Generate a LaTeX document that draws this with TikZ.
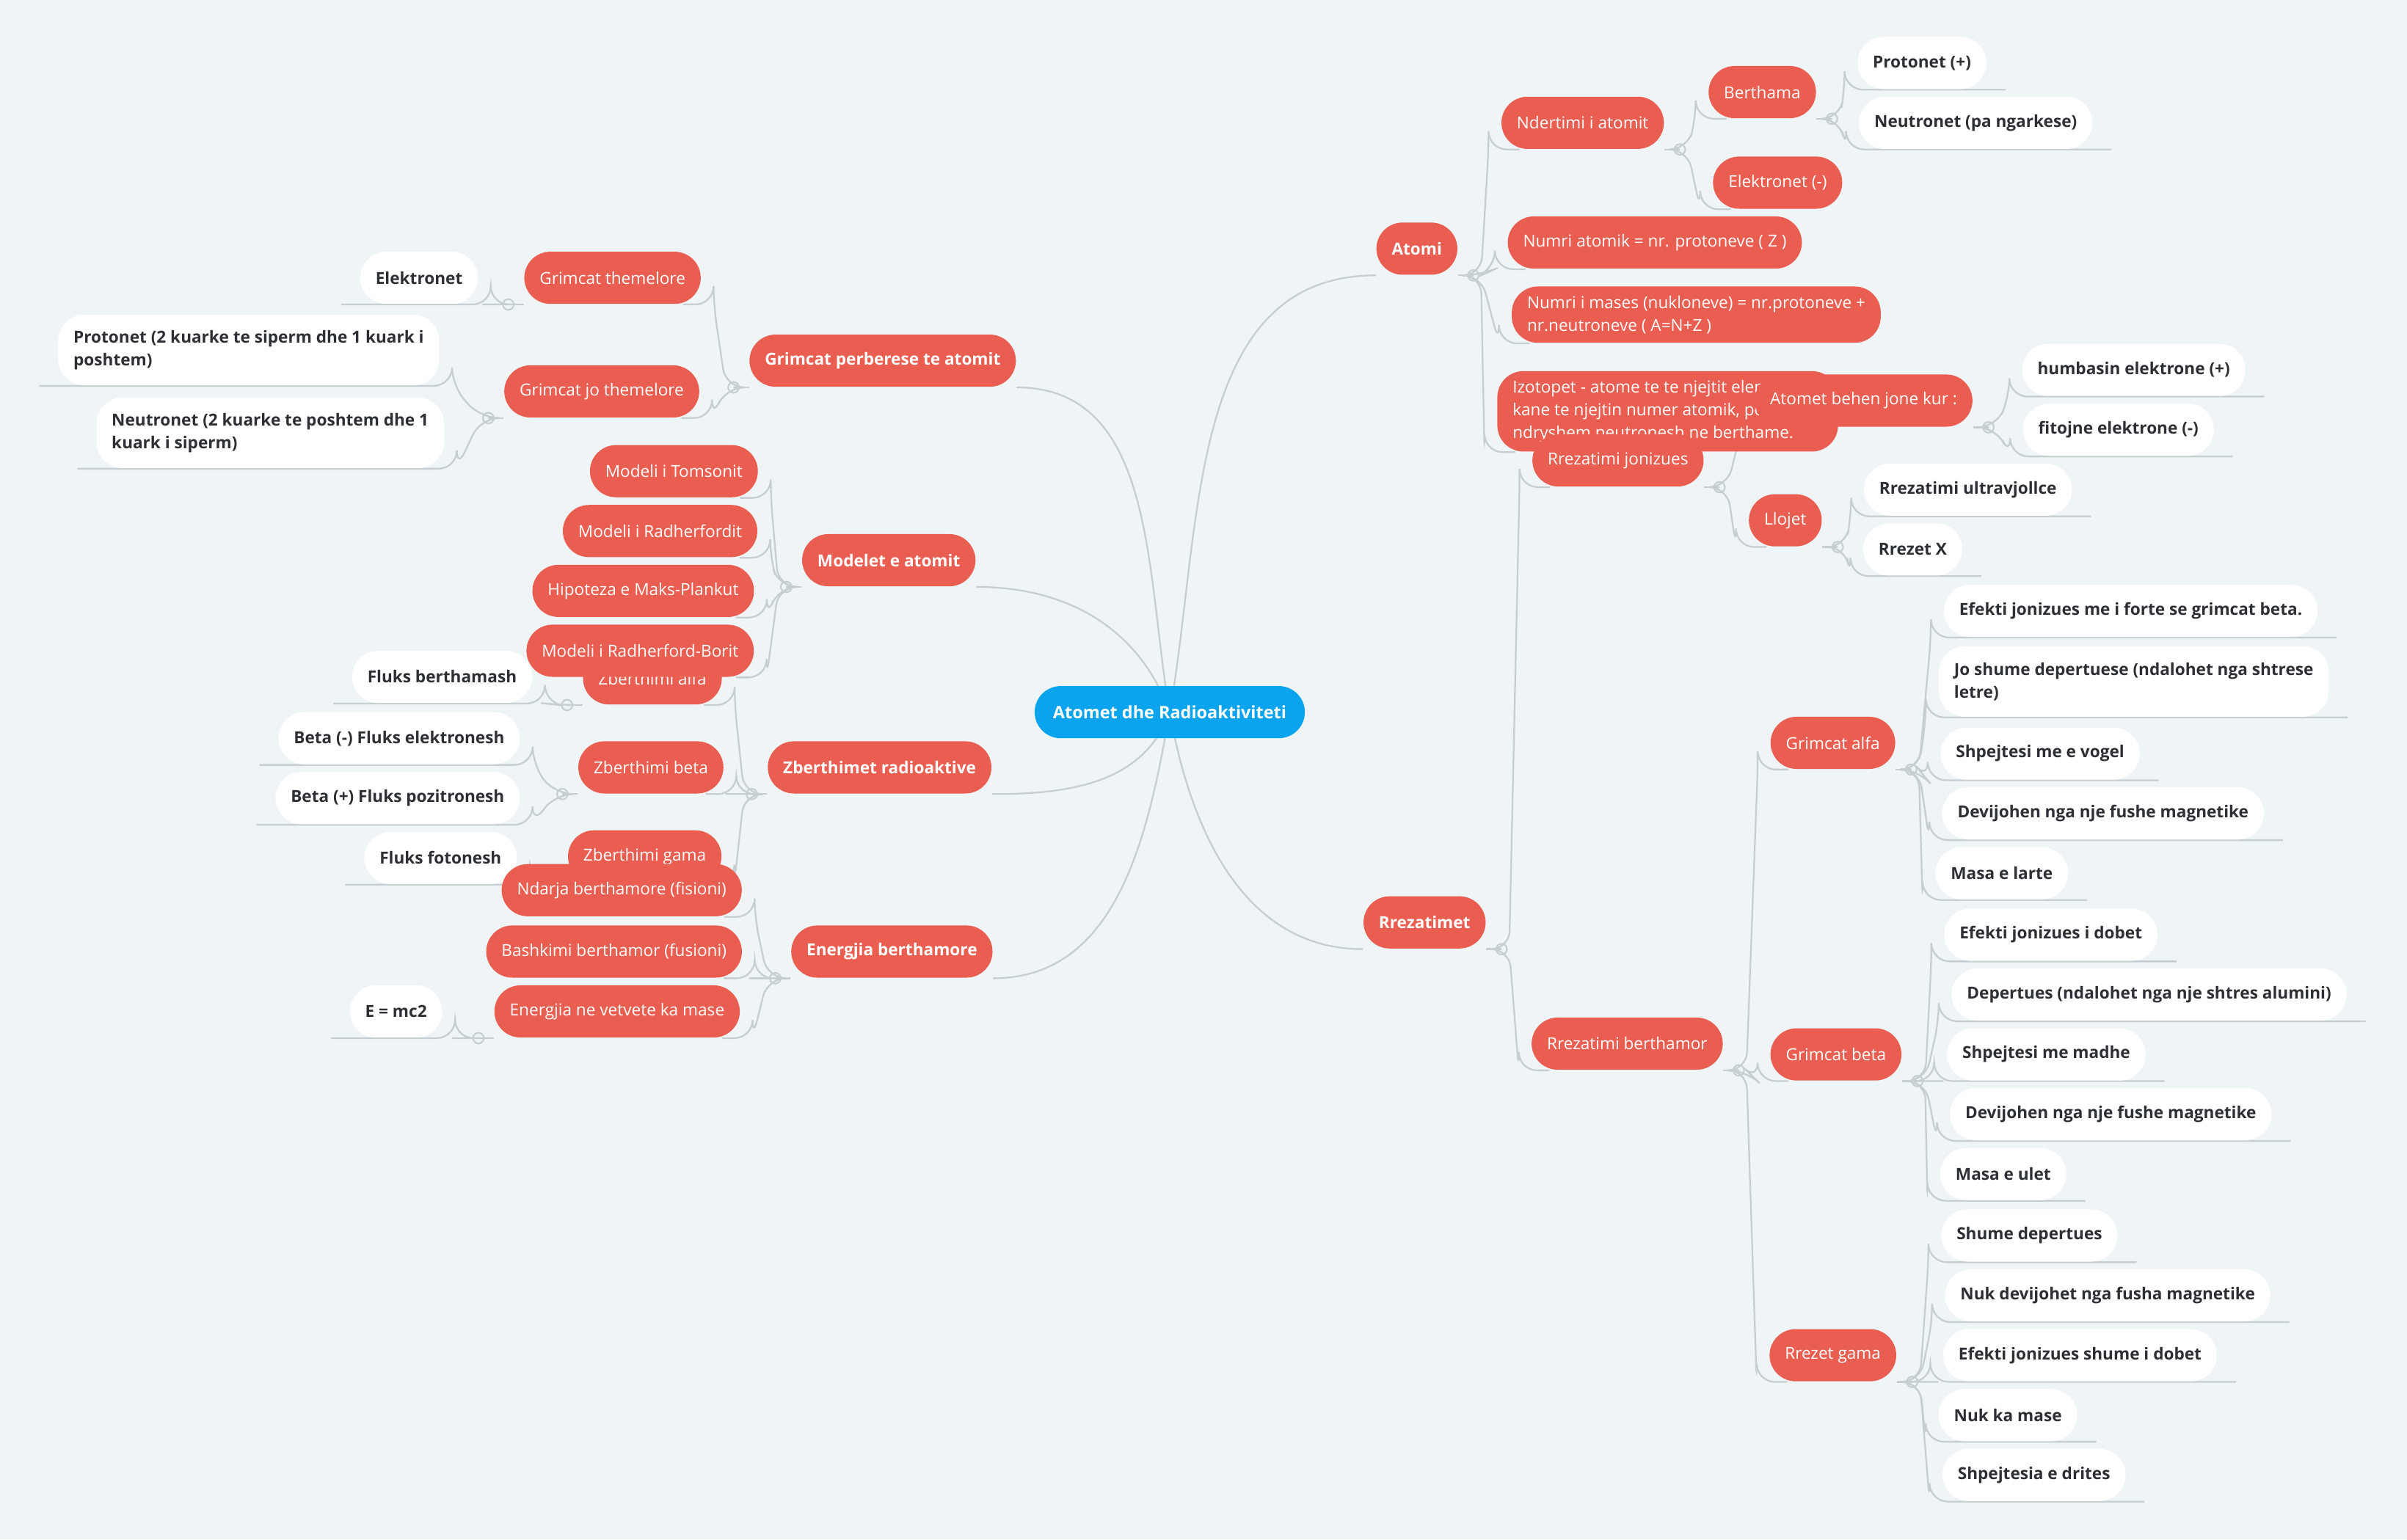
\documentclass[tikz,border=0pt]{standalone}
\usepackage{fontspec}
\setmainfont{Open Sans}
\usetikzlibrary{calc}
\pgfdeclarelayer{bg}
\pgfdeclarelayer{back}
\pgfsetlayers{back,bg,main}
\definecolor{bgc}{HTML}{EFF5F7}
\definecolor{redc}{HTML}{E95E50}
\definecolor{bluec}{HTML}{0AA3EE}
\definecolor{linec}{HTML}{C6CED2}
\definecolor{txt}{HTML}{2C2F33}
\tikzset{
 base/.style={rounded corners=8.5pt,minimum height=17pt,inner xsep=5pt,inner ysep=3pt,align=left,font=\fontsize{5.4}{7.4}\selectfont},
 rd/.style={base,fill=redc,text=white},
 rdb/.style={rd,font=\fontsize{5.4}{7.4}\selectfont\bfseries},
 wh/.style={base,fill=white,text=txt,font=\fontsize{5.4}{7.4}\selectfont\bfseries},
 rootn/.style={base,fill=bluec,text=white,font=\fontsize{5.6}{7.4}\selectfont\bfseries,inner xsep=6pt},
 conn/.style={draw=linec,line width=0.55pt},
 jn/.style={circle,draw=linec,fill=bgc,line width=0.5pt,inner sep=0pt,minimum size=3.5pt}
}
% right links
\newcommand\mrj[1]{\draw[conn] (#1.south east) -- ++(10,0) node[jn](J#1){};}
\newcommand\mrl[2]{\draw[conn,rounded corners=6pt] (J#1.center) -- ($(J#1.center)+(5,0)$) -- ($(#2.south west)+(-8,0)$ |- J#1.center) -- ($(#2.south west)+(-8,0)$) -- ($(#2.south west)+(12,0)$);}
\newcommand\mrw[2]{\draw[conn,rounded corners=6pt] (J#1.center) -- ($(J#1.center)+(5,0)$) -- ($(#2.south west)+(-8,0)$ |- J#1.center) -- ($(#2.south west)+(-8,0)$) -- ($(#2.south east)+(12,0)$);}
% left links
\newcommand\mlj[1]{\draw[conn] (#1.south west) -- ++(-10,0) node[jn](J#1){};}
\newcommand\mll[2]{\draw[conn,rounded corners=6pt] (J#1.center) -- ($(J#1.center)+(-5,0)$) -- ($(#2.south east)+(8,0)$ |- J#1.center) -- ($(#2.south east)+(8,0)$) -- ($(#2.south east)+(-12,0)$);}
\newcommand\mlw[2]{\draw[conn,rounded corners=6pt] (J#1.center) -- ($(J#1.center)+(-5,0)$) -- ($(#2.south east)+(8,0)$ |- J#1.center) -- ($(#2.south east)+(8,0)$) -- ($(#2.south west)+(-12,0)$);}
\begin{document}
\begin{tikzpicture}[x=0.5pt,y=-0.5pt]
\begin{pgfonlayer}{back}
\fill[bgc] (0,0) rectangle (1568,1003);
\end{pgfonlayer}
\useasboundingbox (0,0) rectangle (1568,1003);
\node[rootn] (root) at (762,464) {Atomet dhe Radioaktiviteti};
% right
\node[rdb] (atomi) at (923,162) {Atomi};
\node[rd] (ndert) at (1031,80) {Ndertimi i atomit};
\node[rd] (berth) at (1148,60) {Berthama};
\node[wh] (prot) at (1252,41) {Protonet (+)};
\node[wh] (neut) at (1287,80) {Neutronet (pa ngarkese)};
\node[rd] (elek) at (1158,119) {Elektronet (-)};
\node[rd] (numa) at (1078,158) {Numri atomik = nr. protoneve ( Z )};
\node[rd] (numm) at (1105,205) {Numri i mases (nukloneve) = nr.protoneve +\\nr.neutroneve ( A=N+Z )};
\node[rd,anchor=west] (izot) at (975,268) {Izotopet - atome te te njejtit element, qe\\kane te njejtin numer atomik, por\\ndryshem neutronesh ne berthame.};
\node[rdb] (rrez) at (928,601) {Rrezatimet};
\node[rd] (rjon) at (1054,300) {Rrezatimi jonizues};
\node[rd] (behen) at (1214,261) {Atomet behen jone kur :};
\node[wh] (humb) at (1390,241) {humbasin elektrone (+)};
\node[wh] (fit) at (1380,280) {fitojne elektrone (-)};
\node[rd] (llojet) at (1163,339) {Llojet};
\node[wh] (uv) at (1282,319) {Rrezatimi ultravjollce};
\node[wh] (rx) at (1246,358) {Rrezet X};
\node[rd] (rber) at (1060,680) {Rrezatimi berthamor};
\node[rd] (galfa) at (1194,484) {Grimcat alfa};
\node[wh] (a1) at (1388,398) {Efekti jonizues me i forte se grimcat beta.};
\node[wh,minimum height=23pt] (a2) at (1390,444) {Jo shume depertuese (ndalohet nga shtrese\\letre)};
\node[wh] (a3) at (1329,491) {Shpejtesi me e vogel};
\node[wh] (a4) at (1370,530) {Devijohen nga nje fushe magnetike};
\node[wh] (a5) at (1304,569) {Masa e larte};
\node[rd] (gbeta) at (1196,687) {Grimcat beta};
\node[wh] (b1) at (1336,609) {Efekti jonizues i dobet};
\node[wh] (b2) at (1400,648) {Depertues (ndalohet nga nje shtres alumini)};
\node[wh] (b3) at (1333,687) {Shpejtesi me madhe};
\node[wh] (b4) at (1375,726) {Devijohen nga nje fushe magnetike};
\node[wh] (b5) at (1305,765) {Masa e ulet};
\node[rd] (rgama) at (1194,883) {Rrezet gama};
\node[wh] (g1) at (1322,805) {Shume depertues};
\node[wh] (g2) at (1373,844) {Nuk devijohet nga fusha magnetike};
\node[wh] (g3) at (1355,883) {Efekti jonizues shume i dobet};
\node[wh] (g4) at (1308,922) {Nuk ka mase};
\node[wh] (g5) at (1325,961) {Shpejtesia e drites};
% left
\node[rdb] (gper) at (575,235) {Grimcat perberese te atomit};
\node[rd] (gthem) at (399,181) {Grimcat themelore};
\node[wh] (lel) at (273,181) {Elektronet};
\node[rd] (gjo) at (392,255) {Grimcat jo themelore};
\node[wh,minimum height=23pt] (lpr) at (162,228) {Protonet (2 kuarke te siperm dhe 1 kuark i\\poshtem)};
\node[wh,minimum height=23pt] (lne) at (176,282) {Neutronet (2 kuarke te poshtem dhe 1\\kuark i siperm)};
\node[rdb] (mod) at (579,365) {Modelet e atomit};
\node[rd] (m1) at (439,307) {Modeli i Tomsonit};
\node[rd] (m2) at (430,346) {Modeli i Radherfordit};
\node[rd] (m3) at (419,385) {Hipoteza e Maks-Plankut};
\node[rd] (zalfa) at (425,442) {Zberthimi alfa};
\node[rd] (m4) at (417,424) {Modeli i Radherford-Borit};
\node[rdb] (zber) at (573,500) {Zberthimet radioaktive};
\node[wh] (fb) at (288,441) {Fluks berthamash};
\node[rd] (zbeta) at (424,500) {Zberthimi beta};
\node[wh] (bm) at (260,481) {Beta (-) Fluks elektronesh};
\node[wh] (bp) at (259,520) {Beta (+) Fluks pozitronesh};
\node[rd] (zgama) at (420,558) {Zberthimi gama};
\node[wh] (ff) at (287,559) {Fluks fotonesh};
\node[rdb] (ener) at (581,620) {Energjia berthamore};
\node[rd] (fis) at (405,580) {Ndarja berthamore (fisioni)};
\node[rd] (fus) at (400,620) {Bashkimi berthamor (fusioni)};
\node[rd] (emas) at (402,659) {Energjia ne vetvete ka mase};
\node[wh] (emc) at (258,659) {E = mc2};
\begin{pgfonlayer}{bg}
\draw[conn] (root.center) to[out=80,in=180] (atomi.south west);
\draw[conn] (root.center) to[out=-80,in=180] (rrez.south west);
\draw[conn] (root.center) to[out=100,in=0] (gper.south east);
\draw[conn] (root.center) to[out=110,in=0] (mod.south east);
\draw[conn] (root.center) to[out=-110,in=0] (zber.south east);
\draw[conn] (root.center) to[out=-100,in=0] (ener.south east);
\mrj{atomi}\mrl{atomi}{ndert}\mrl{atomi}{numa}\mrl{atomi}{numm}\mrl{atomi}{izot}
\mrj{ndert}\mrl{ndert}{berth}\mrl{ndert}{elek}
\mrj{berth}\mrw{berth}{prot}\mrw{berth}{neut}
\mrj{rrez}\mrl{rrez}{rjon}\mrl{rrez}{rber}
\mrj{rjon}\mrl{rjon}{behen}\mrl{rjon}{llojet}
\mrj{behen}\mrw{behen}{humb}\mrw{behen}{fit}
\mrj{llojet}\mrw{llojet}{uv}\mrw{llojet}{rx}
\mrj{rber}\mrl{rber}{galfa}\mrl{rber}{gbeta}\mrl{rber}{rgama}
\mrj{galfa}\mrw{galfa}{a1}\mrw{galfa}{a2}\mrw{galfa}{a3}\mrw{galfa}{a4}\mrw{galfa}{a5}
\mrj{gbeta}\mrw{gbeta}{b1}\mrw{gbeta}{b2}\mrw{gbeta}{b3}\mrw{gbeta}{b4}\mrw{gbeta}{b5}
\mrj{rgama}\mrw{rgama}{g1}\mrw{rgama}{g2}\mrw{rgama}{g3}\mrw{rgama}{g4}\mrw{rgama}{g5}
\mlj{gper}\mll{gper}{gthem}\mll{gper}{gjo}
\mlj{gthem}\mlw{gthem}{lel}
\mlj{gjo}\mlw{gjo}{lpr}\mlw{gjo}{lne}
\mlj{mod}\mll{mod}{m1}\mll{mod}{m2}\mll{mod}{m3}\mll{mod}{m4}
\mlj{zber}\mll{zber}{zalfa}\mll{zber}{zbeta}\mll{zber}{zgama}
\mlj{zalfa}\mlw{zalfa}{fb}
\mlj{zbeta}\mlw{zbeta}{bm}\mlw{zbeta}{bp}
\mlj{zgama}\mlw{zgama}{ff}
\mlj{ener}\mll{ener}{fis}\mll{ener}{fus}\mll{ener}{emas}
\mlj{emas}\mlw{emas}{emc}
\end{pgfonlayer}
\end{tikzpicture}
\end{document}
